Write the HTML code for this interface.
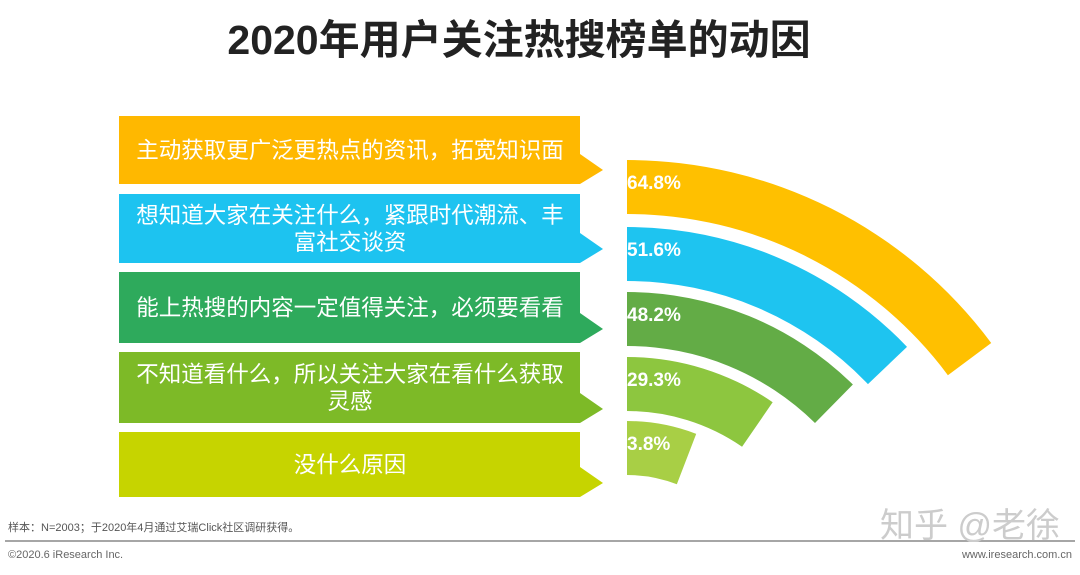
<!DOCTYPE html>
<html><head><meta charset="utf-8">
<style>
body{margin:0;background:#fff;width:1080px;height:575px;overflow:hidden;font-family:"Liberation Sans","Noto Sans CJK SC",sans-serif;}
svg{position:absolute;left:0;top:0}
</style></head><body>
<svg width="1080" height="575" viewBox="0 0 1080 575">
<text x="519" y="54" text-anchor="middle" font-size="41" font-weight="bold" fill="#222" font-family="Liberation Sans, Noto Sans CJK SC, sans-serif">2020年用户关注热搜榜单的动因</text>
<g id="boxes"></g>
<g id="arcs"></g>
<text x="8" y="531" font-size="11" fill="#555" font-family="Liberation Sans, Noto Sans CJK SC, sans-serif">样本：N=2003；于2020年4月通过艾瑞Click社区调研获得。</text>
<line x1="5" y1="541" x2="1075" y2="541" stroke="#888" stroke-width="1.5"/>
<text x="8" y="558" font-size="11" fill="#666">©2020.6 iResearch Inc.</text>
<text x="1072" y="558" font-size="11" fill="#666" text-anchor="end">www.iresearch.com.cn</text>
<text x="880" y="537" font-size="34" fill="#ccc" font-family="Liberation Sans, Noto Sans CJK SC, sans-serif">知乎 @老徐</text>
</svg>
<script>
const categories=["主动获取更广泛更热点的资讯，拓宽知识面","想知道大家在关注什么，紧跟时代潮流、丰|富社交谈资","能上热搜的内容一定值得关注，必须要看看","不知道看什么，所以关注大家在看什么获取|灵感","没什么原因"];
const values=[64.8,51.6,48.2,29.3,3.8];
const valueLabels=["64.8%","51.6%","48.2%","29.3%","3.8%"];
const boxColors=["#FFB800","#1DC3F0","#2EAA5C","#7DBA27","#C6D400"];
const arcColors=["#FFC000","#1EC4F0","#63AC46","#8DC63F","#A8CF45"];
const ns="http://www.w3.org/2000/svg";
const boxTops=[116,194,272,352,432],boxBots=[184,263,343,423,497];
const cx=627,cy=614,outerTop=[160,227,292,357,421],thick=54;
function angle(v){return (19+0.53*v)*Math.PI/180;}
function pt(r,a){return [cx+r*Math.sin(a),cy-r*Math.cos(a)];}
const gb=document.getElementById('boxes'),ga=document.getElementById('arcs');
categories.forEach((c,i)=>{
  const t=boxTops[i],b=boxBots[i];
  const p=document.createElementNS(ns,'path');
  p.setAttribute('d',`M119 ${t}H580V${b-30}L603 ${b-14}L580 ${b}H119Z`);
  p.setAttribute('fill',boxColors[i]);
  
  
  gb.appendChild(p);
  const lines=c.split('|');
  const mid=(t+b)/2;
  lines.forEach((ln,j)=>{
    const tx=document.createElementNS(ns,'text');
    tx.setAttribute('x',350);
    tx.setAttribute('y',mid+8+(j-(lines.length-1)/2)*27);
    tx.setAttribute('text-anchor','middle');
    tx.setAttribute('font-size','22.5');
    tx.setAttribute('fill','#fff');
    tx.setAttribute('font-family','Liberation Sans, Noto Sans CJK SC, sans-serif');
    
    
    tx.textContent=ln;
    gb.appendChild(tx);
  });
  const R=cy-outerTop[i],r=R-thick,a=angle(values[i]);
  const o=pt(R,a),n=pt(r,a);
  const arc=document.createElementNS(ns,'path');
  arc.setAttribute('d',`M${cx} ${cy-R}A${R} ${R} 0 0 1 ${o[0]} ${o[1]}L${n[0]} ${n[1]}A${r} ${r} 0 0 0 ${cx} ${cy-r}Z`);
  arc.setAttribute('fill',arcColors[i]);
  
  
  ga.appendChild(arc);
  const vl=document.createElementNS(ns,'text');
  vl.setAttribute('x',627);
  vl.setAttribute('y',cy-R+29);
  vl.setAttribute('font-size','19');
  vl.setAttribute('font-weight','bold');
  vl.setAttribute('fill','#fff');
  
  
  vl.textContent=valueLabels[i];
  ga.appendChild(vl);
});
</script>
</body></html>
